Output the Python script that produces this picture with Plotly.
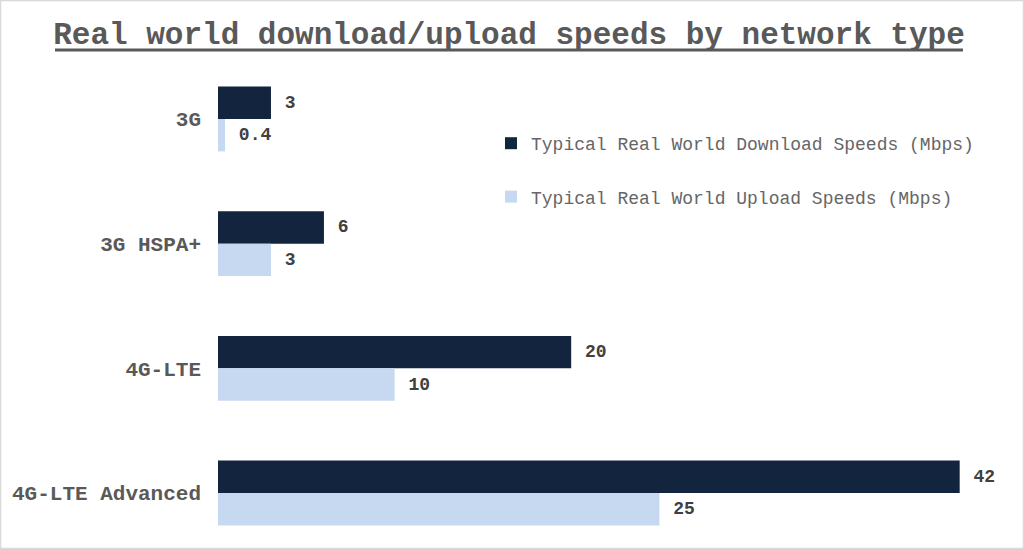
import plotly.graph_objects as go

categories = ["3G", "3G HSPA+", "4G-LTE", "4G-LTE Advanced"]
download = [3, 6, 20, 42]
upload = [0.4, 3, 10, 25]
series_names = ["Typical Real World Download Speeds (Mbps)",
                "Typical Real World Upload Speeds (Mbps)"]

W, H = 1024, 549
L, R, T, B = 218, 995, 70, 540
pw, ph = R - L, B - T

def px(x):
    return (x - L) / pw

def py(y):
    return (B - y) / ph

MONO = "Liberation Mono"
GRAY = "#595959"

fig = go.Figure()
fig.add_trace(go.Bar(
    y=categories, x=download, orientation="h", name=series_names[0],
    marker=dict(color="#13243f", line=dict(width=0)),
    text=download, texttemplate=" %{x}", textposition="outside",
    textfont=dict(family=MONO, size=18, color="#404040", weight="bold"),
    legendgroup="d", cliponaxis=False,
))
fig.add_trace(go.Bar(
    y=categories, x=upload, orientation="h", name=series_names[1],
    marker=dict(color="#c6d9f1", line=dict(width=0)),
    text=upload, texttemplate=" %{x}", textposition="outside",
    textfont=dict(family=MONO, size=18, color="#404040", weight="bold"),
    legendgroup="u", cliponaxis=False,
))

fig.update_layout(
    width=W, height=H,
    margin=dict(l=L, r=W - R, t=T, b=H - B, pad=0),
    paper_bgcolor="white", plot_bgcolor="white",
    font=dict(family=MONO, color=GRAY),
    barmode="group", bargap=0.48, bargroupgap=0,
    title=dict(
        text="<b>Real world download/upload speeds by network type</b>",
        x=509 / W, xref="container", xanchor="center",
        y=1 - 33 / H, yref="container", yanchor="middle",
        font=dict(family=MONO, size=31, color=GRAY),
    ),
    xaxis=dict(range=[0, 44], visible=False, showgrid=False, zeroline=False),
    yaxis=dict(
        range=[3.377, -0.393], showgrid=False, zeroline=False, showline=False,
        ticks="", ticklabelstandoff=16,
        tickfont=dict(family=MONO, size=21, color=GRAY, weight="bold"),
    ),
    legend=dict(
        x=px(491), y=py(125), xanchor="left", yanchor="top",
        font=dict(family=MONO, size=18, color="#666666"),
        tracegroupgap=27, bgcolor="rgba(0,0,0,0)",
    ),
    showlegend=True,
)

# title underline
fig.add_shape(type="line", xref="paper", yref="paper",
              x0=px(55), x1=px(963), y0=py(50), y1=py(50),
              line=dict(color=GRAY, width=3))
# outer frame
fig.add_shape(type="rect", xref="paper", yref="paper",
              x0=px(0.5), x1=px(W - 0.5), y0=py(H - 0.5), y1=py(0.5),
              line=dict(color="#d9d9d9", width=1.5), layer="below")

fig.write_html("out.html", config={"displayModeBar": False},
               post_script="document.body.style.margin='0';")
